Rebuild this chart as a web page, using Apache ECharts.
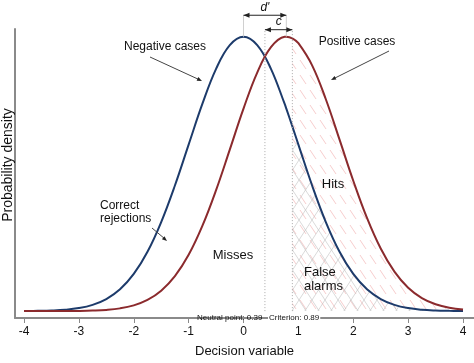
<!DOCTYPE html>
<html><head><meta charset="utf-8">
<script src="https://cdn.jsdelivr.net/npm/echarts@6/dist/echarts.min.js"></script>
<style>html,body{margin:0;padding:0;background:#fff}#c{width:474px;height:363px}</style>
</head><body><div id="c"></div>
<script>
// ---- data ----
const xValues = [-4,-3.75,-3.5,-3.25,-3,-2.75,-2.5,-2.25,-2,-1.75,-1.5,-1.25,-1,-0.75,-0.5,-0.25,0,0.25,0.5,0.75,0.78,0.89,1,1.25,1.5,1.75,2,2.25,2.5,2.75,3,3.25,3.5,3.75,4];
const negativeDensity = [0.0001,0.0004,0.0009,0.0020,0.0044,0.0091,0.0175,0.0317,0.0540,0.0863,0.1295,0.1826,0.2420,0.3011,0.3521,0.3867,0.3989,0.3867,0.3521,0.3011,0.2943,0.2685,0.2420,0.1826,0.1295,0.0863,0.0540,0.0317,0.0175,0.0091,0.0044,0.0020,0.0009,0.0004,0.0001];
const positiveDensity = [0.0000,0.0000,0.0000,0.0001,0.0003,0.0008,0.0018,0.0040,0.0084,0.0163,0.0297,0.0508,0.0818,0.1238,0.1758,0.2347,0.2943,0.3467,0.3836,0.3988,0.3989,0.3965,0.3894,0.3572,0.3079,0.2492,0.1895,0.1354,0.0909,0.0573,0.0339,0.0189,0.0099,0.0048,0.0022];
const xTicks = [-4,-3,-2,-1,0,1,2,3,4];
const negativeMean = 0;
const positiveMean = 0.78;
const neutralPoint = 0.39;
const criterion = 0.89;
const peakDensity = 0.3989;
const dPrimeLevel = 0.43;
const cLevel = 0.409;

// ---- styling ----
const BLUE = '#1d3b6b', RED = '#8b2a2d', AXIS = '#8a8a8a';
const FONT = '"Liberation Sans", Arial, Helvetica, sans-serif';

function makePattern(w, h, draw) {
  const cv = document.createElement('canvas');
  cv.width = w; cv.height = h;
  const ctx = cv.getContext('2d');
  draw(ctx, w, h);
  return cv;
}
const hitsPattern = makePattern(10, 15, (ctx, w, h) => {
  ctx.strokeStyle = 'rgba(238,150,150,0.6)'; ctx.lineWidth = 0.8;
  for (const o of [-w, 0, w]) {
    ctx.beginPath(); ctx.moveTo(o, 0); ctx.lineTo(o + 0.6 * w, 0.6 * h); ctx.stroke();
  }
});
const faPattern = makePattern(13, 20, (ctx, w, h) => {
  ctx.strokeStyle = 'rgba(180,180,180,0.7)'; ctx.lineWidth = 0.7;
  for (const o of [-w, 0, w]) {
    ctx.beginPath(); ctx.moveTo(o, 0); ctx.lineTo(o + w, h); ctx.stroke();
    ctx.beginPath(); ctx.moveTo(o, h); ctx.lineTo(o + w, 0); ctx.stroke();
  }
});

const negPts = xValues.map((x, i) => [x, negativeDensity[i]]);
const posPts = xValues.map((x, i) => [x, positiveDensity[i]]);
const negRight = negPts.filter(p => p[0] >= criterion);
const posRight = posPts.filter(p => p[0] >= criterion);

const chart = echarts.init(document.getElementById('c'), null, {renderer: 'canvas'});
chart.setOption({
  animation: false,
  grid: {left: 15, right: 0, top: 29, bottom: 35, containLabel: false},
  xAxis: {
    type: 'value', min: -4.164, max: 4.2,
    name: 'Decision variable', nameLocation: 'middle', nameGap: 27,
    nameTextStyle: {fontFamily: FONT, fontSize: 13, color: '#111'},
    axisLine: {show: true, onZero: false, lineStyle: {color: AXIS, width: 2}},
    axisTick: {show: true, customValues: xTicks, length: 5, lineStyle: {color: AXIS, width: 1}},
    axisLabel: {customValues: xTicks, fontFamily: FONT, fontSize: 12, color: '#111', margin: 8},
    splitLine: {show: false}
  },
  yAxis: {
    type: 'value', min: -0.01, max: 0.41,
    axisLine: {show: true, onZero: false, lineStyle: {color: AXIS, width: 2}},
    axisTick: {show: false}, axisLabel: {show: false}, splitLine: {show: false}
  },
  series: [
    {type: 'line', data: posRight, smooth: 0.4, symbol: 'none', lineStyle: {width: 0},
     areaStyle: {color: {image: hitsPattern, repeat: 'repeat'}, opacity: 1}, z: 1},
    {type: 'line', data: negRight, smooth: 0.4, symbol: 'none', lineStyle: {width: 0},
     areaStyle: {color: {image: faPattern, repeat: 'repeat'}, opacity: 1}, z: 2},
    {type: 'line', name: 'Negative cases', data: negPts, smooth: 0.4, symbol: 'none',
     lineStyle: {color: BLUE, width: 2}, z: 5},
    {type: 'line', name: 'Positive cases', data: posPts, smooth: 0.4, symbol: 'none',
     lineStyle: {color: RED, width: 2}, z: 5}
  ]
});

function px(x, y) { return chart.convertToPixel({gridIndex: 0}, [x, y]); }
function head(tip, from, len, wid) {
  const dx = tip[0] - from[0], dy = tip[1] - from[1];
  const d = Math.hypot(dx, dy), ux = dx / d, uy = dy / d;
  const bx = tip[0] - ux * len, by = tip[1] - uy * len;
  return {type: 'polygon', shape: {points: [tip, [bx - uy * wid, by + ux * wid], [bx + uy * wid, by - ux * wid]]},
          style: {fill: '#222'}, z: 20};
}
function line(a, b, style) {
  return {type: 'line', shape: {x1: a[0], y1: a[1], x2: b[0], y2: b[1]}, style: Object.assign({stroke: '#444', lineWidth: 1}, style), z: 20};
}
function text(t, x, y, size, opts) {
  return {type: 'text', z: 25, style: Object.assign({text: t, x: x, y: y, font: size + 'px ' + FONT, fill: '#111',
    textAlign: 'center', textVerticalAlign: 'middle', align: 'center', verticalAlign: 'middle'}, opts || {})};
}

const g = [];
// y axis title
g.push({type: 'text', z: 25, x: 8, y: 165, rotation: Math.PI / 2,
  style: {text: 'Probability density', x: 0, y: 0, font: '14px ' + FONT, fill: '#111',
    textAlign: 'center', textVerticalAlign: 'middle', align: 'center', verticalAlign: 'middle'}});
// d' arrow
const dA = px(negativeMean, dPrimeLevel), dB = px(positiveMean, dPrimeLevel);
g.push(line(px(negativeMean, peakDensity), dA, {stroke: '#d0d0d0'}));
g.push(line(px(positiveMean, peakDensity), dB, {stroke: '#d0d0d0'}));
g.push(line(dA, dB, {stroke: '#222', lineWidth: 1}));
g.push(head(dA, dB, 6, 2.5), head(dB, dA, 6, 2.5));
g.push(text("d'", (dA[0] + dB[0]) / 2, dA[1] - 8, 12, {font: 'italic 12px ' + FONT}));
// c arrow
const cA = px(neutralPoint, cLevel), cB = px(criterion, cLevel);
g.push(line(cA, cB, {stroke: '#222', lineWidth: 1}));
g.push(head(cA, cB, 6, 2.5), head(cB, cA, 6, 2.5));
g.push(text('c', (cA[0] + cB[0]) / 2, cA[1] - 8, 12, {font: 'italic 12px ' + FONT}));
// dotted verticals
g.push(line(px(neutralPoint, 0), cA, {stroke: '#aaa', lineDash: [1, 2]}));
g.push(line(px(criterion, 0), cB, {stroke: '#aaa', lineDash: [1, 2]}));
// labels
g.push(text('Negative cases', 165, 47, 12));
g.push(line([150, 57], [200, 80], {stroke: '#444'}), head([202, 81], [150, 57], 5, 2));
g.push(text('Positive cases', 357, 42, 12));
g.push(line([389, 51], [333, 79], {stroke: '#444'}), head([331, 80], [389, 51], 5, 2));
g.push(text('Correct', 100, 206, 12, {textAlign: 'left', align: 'left'}));
g.push(text('rejections', 100, 219, 12, {textAlign: 'left', align: 'left'}));
g.push(line([152, 228], [165, 239], {stroke: '#444'}), head([167, 241], [152, 228], 5, 2));
g.push(text('Misses', 233, 255, 13));
g.push(text('Hits', 333, 184, 13));
g.push(text('False', 304, 272, 13, {textAlign: 'left', align: 'left'}));
g.push(text('alarms', 304, 286, 13, {textAlign: 'left', align: 'left'}));
g.push(text('Neutral point: ' + neutralPoint.toFixed(2), 197, 318, 8, {textAlign: 'left', align: 'left'}));
g.push(text('Criterion: ' + criterion.toFixed(2), 268, 318, 8,
  {textAlign: 'left', align: 'left', backgroundColor: '#fff', padding: [1, 1, 1, 1]}));
chart.setOption({graphic: g});
</script>
</body></html>
